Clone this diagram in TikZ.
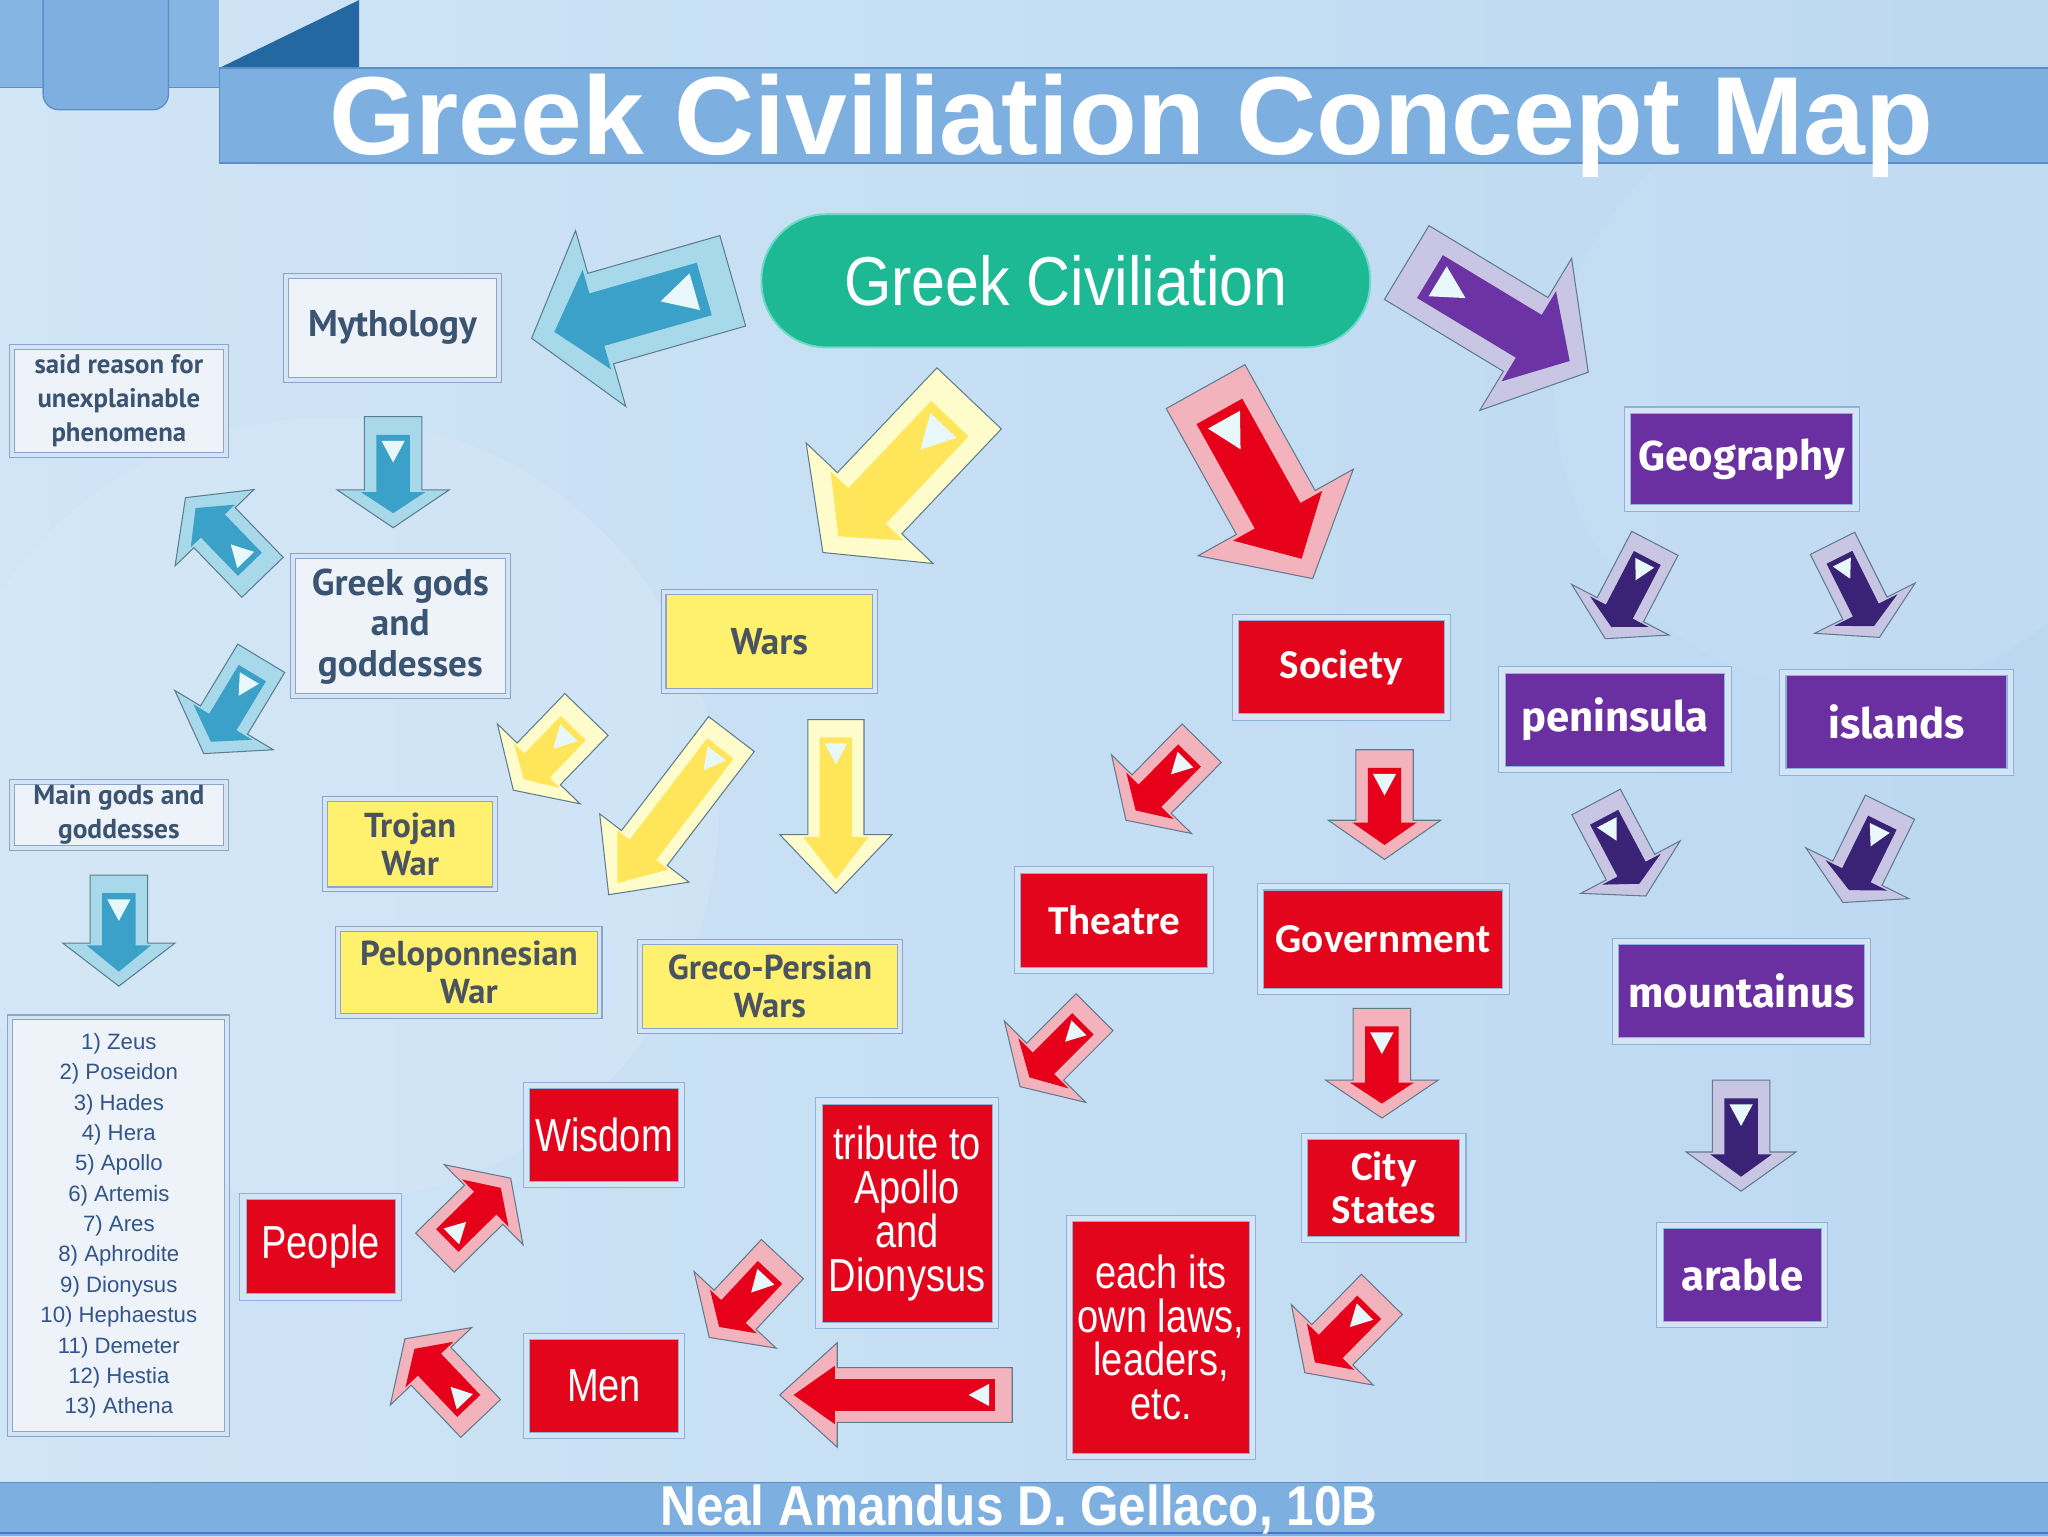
\documentclass[tikz,border=0pt]{standalone}
\usepackage{fontspec}
\setmainfont{Liberation Sans}
\newfontfamily\narrowf{Liberation Sans}[FakeStretch=0.82]
\newfontfamily\footf{Liberation Sans}[FakeStretch=0.88]
\newfontfamily\pillf{Liberation Sans}[FakeStretch=0.88]
\newfontfamily\ptf{PT Sans}
\newfontfamily\carf{Carlito}
\newfontfamily\firaf{Fira Sans}
\definecolor{bgL}{HTML}{D0E5F6}
\definecolor{bgR}{HTML}{BCD8F1}
\definecolor{titlefill}{HTML}{7DAFE1}
\definecolor{titleline}{HTML}{5C8FC6}
\definecolor{bandfill}{HTML}{86B5E4}
\definecolor{tabfill}{HTML}{7EAFE0}
\definecolor{tridark}{HTML}{2468A2}
\definecolor{pillfill}{HTML}{1DB894}
\definecolor{pillline}{HTML}{6FD9C8}
\definecolor{wbline}{HTML}{8CA6CB}
\definecolor{wbgap}{HTML}{D5E4F4}
\definecolor{wbfill}{HTML}{EEF3FA}
\definecolor{wbtext}{HTML}{3A5472}
\definecolor{listtext}{HTML}{32558A}
\definecolor{yfill}{HTML}{FFF06E}
\definecolor{ytext}{HTML}{4A5460}
\definecolor{rbline}{HTML}{8DB3DC}
\definecolor{rbgap}{HTML}{D3E4F5}
\definecolor{redfill}{HTML}{E3051C}
\definecolor{purfill}{HTML}{6A2FA0}
\definecolor{arrowline}{HTML}{5D7C8E}
\definecolor{bl}{HTML}{A8D9EB}
\definecolor{bd}{HTML}{3BA1C8}
\definecolor{yl}{HTML}{FFFCCC}
\definecolor{yd}{HTML}{FFE55A}
\definecolor{rl}{HTML}{F2B3BC}
\definecolor{rd}{HTML}{E6001A}
\definecolor{pl}{HTML}{C8C6E2}
\definecolor{pd}{HTML}{6C33A5}
\definecolor{pdd}{HTML}{3A2377}
\definecolor{arrowtri}{HTML}{E8F7FA}
% block arrow: tail x, tail y, tip x, tip y, head half-width, shaft half-width, head length, light, dark
\newcommand{\barrow}[9]{%
  \pgfmathsetmacro{\arrL}{veclen(#3-#1,#4-#2)}%
  \pgfmathsetmacro{\arrA}{atan2(-(#4-#2),#3-#1)}%
  \pgfmathsetmacro{\arrM}{0.42*#6}%
  \pgfmathsetmacro{\arrS}{#6-\arrM}%
  \pgfmathsetmacro{\arrH}{#5-2*\arrM}%
  \pgfmathsetmacro{\arrB}{\arrL-#7}%
  \pgfmathsetmacro{\arrBi}{\arrL-#7+0.2*\arrM}%
  \begin{scope}[shift={(#1,#2)},rotate=\arrA]
    \filldraw[fill=#8,draw=arrowline,line width=0.8pt,line join=miter]
      (0,#6) -- (\arrB,#6) -- (\arrB,#5) -- (\arrL,0) -- (\arrB,-#5) -- (\arrB,-#6) -- (0,-#6) -- cycle;
    \fill[#9] ({1.5*\arrM},\arrS) -- (\arrBi,\arrS) -- (\arrBi,\arrH) -- ({\arrL-1.2*\arrM},0)
      -- (\arrBi,-\arrH) -- (\arrBi,-\arrS) -- ({1.5*\arrM},-\arrS) -- cycle;
    \fill[arrowtri] ({2*\arrM},{0.7*\arrS}) -- ({2*\arrM+1.3*\arrS},0) -- ({2*\arrM},{-0.7*\arrS}) -- cycle;
  \end{scope}}
\tikzset{
  whitebox/.style={draw=wbline, double=wbgap, double distance=3pt, line width=0.8pt,
    fill=wbfill, text=wbtext, align=center, inner sep=0pt},
  yellowbox/.style={draw=wbline, double=wbgap, double distance=3pt, line width=0.8pt,
    fill=yfill, text=ytext, align=center, inner sep=0pt},
  redbox/.style={draw=rbline, double=rbgap, double distance=4pt, line width=0.8pt,
    fill=redfill, text=white, align=center, inner sep=0pt},
  purplebox/.style={draw=rbline, double=rbgap, double distance=4pt, line width=0.8pt,
    fill=purfill, text=white, align=center, inner sep=0pt},
  wfont/.style={font=\ptf\bfseries\fontsize{28.5}{31}\selectfont},
  yfont/.style={font=\ptf\bfseries\fontsize{26.5}{29}\selectfont},
  cfont/.style={font=\carf\bfseries\fontsize{31.5}{33}\selectfont},
  nfont/.style={font=\narrowf\fontsize{35.5}{33.5}\selectfont},
  pfont/.style={font=\firaf\bfseries\fontsize{32}{34}\selectfont}
}
\begin{document}
\begin{tikzpicture}[x=1pt,y=-1pt]
\useasboundingbox (0,0) rectangle (1568,1176);
% background
\shade[left color=bgL, right color=bgR] (0,0) rectangle (1568,1176);
\fill[white,opacity=0.10] (250,620) circle (300);
\fill[white,opacity=0.08] (1420,300) circle (230);
% header decoration
\fill[bandfill] (0,0) rectangle (168,67);
\draw[titleline,line width=1pt] (0,67) -- (168,67);
\filldraw[fill=tabfill,draw=titleline,line width=1pt,rounded corners=12pt] (33,-5) -- (33,84) -- (129,84) -- (129,-5);
\fill[tridark] (168,52) -- (275,0) -- (275,52) -- cycle;
\fill[titlefill] (168,52) rectangle (1568,125);
\draw[titleline,line width=1.2pt] (1568,52) -- (168,52) -- (168,125) -- (1568,125);
\node[anchor=base, text=white, font=\bfseries\fontsize{85}{90}\selectfont] (title) at (866,118) {Greek Civiliation Concept Map};
% footer
\fill[titlefill] (0,1135) rectangle (1568,1176);
\draw[titleline,line width=1.2pt] (0,1135) -- (1568,1135);
\draw[titleline!80!blue,line width=1.5pt] (0,1174) -- (1568,1174);
\node[anchor=base, text=white, font=\footf\bfseries\fontsize{43}{46}\selectfont] (author) at (780,1168) {Neal Amandus D. Gellaco, 10B};
% arrows
\barrow{561}{215}{407}{259}{70}{36}{55}{bl}{bd}
\barrow{301}{319}{301}{404}{43}{22}{29}{bl}{bd}
\barrow{201}{442}{142}{381}{42}{22}{32}{bl}{bd}
\barrow{200}{504}{156}{577}{44}{21}{30}{bl}{bd}
\barrow{91}{670}{91}{755}{43}{22}{33}{bl}{bd}
\barrow{742}{305}{630}{423}{67}{34}{52}{yl}{yd}
\barrow{449}{547}{393}{605}{44}{23}{28}{yl}{yd}
\barrow{560}{562}{466}{685}{43}{22}{45}{yl}{yd}
\barrow{640}{551}{640}{684}{43}{21.5}{45}{yl}{yd}
\barrow{923}{296}{1005}{443}{68}{34.5}{58}{rl}{rd}
\barrow{920}{569}{862}{628}{43}{21}{28}{rl}{rd}
\barrow{1060}{574}{1060}{658}{43}{22}{30}{rl}{rd}
\barrow{838}{775}{781}{832}{44}{20}{27}{rl}{rd}
\barrow{1058}{772}{1058}{856}{43}{22}{29}{rl}{rd}
\barrow{1058}{991}{999}{1051}{44}{22}{30}{rl}{rd}
\barrow{599}{964}{543}{1024}{43}{22}{29}{rl}{rd}
\barrow{333}{959}{391}{902}{43}{21}{29}{rl}{rd}
\barrow{368}{1086}{310}{1025}{43}{21}{29}{rl}{rd}
\barrow{775}{1068}{597}{1068}{40}{21}{44}{rl}{rd}
\barrow{1077}{201}{1216}{285}{68}{33}{56}{pl}{pd}
\barrow{1267}{416}{1229}{489}{42}{20}{25}{pl}{pdd}
\barrow{1403}{416}{1439}{488}{43}{19}{25}{pl}{pdd}
\barrow{1222}{614}{1260}{686}{43}{21}{25}{pl}{pdd}
\barrow{1447}{618}{1411}{691}{44}{21}{25}{pl}{pdd}
\barrow{1333}{827}{1333}{912}{42}{22}{30}{pl}{pdd}
% central node
\node[draw=pillline, line width=1.5pt, fill=pillfill, rounded corners=50pt, minimum width=466pt, minimum height=102pt,
  text=white, font=\pillf\fontsize{53}{56}\selectfont] (civ) at (816,215) {Greek Civiliation};
% mythology group
\node[whitebox, wfont, minimum width=163pt, minimum height=80pt] (myth) at (300.5,251) {Mythology};
\node[whitebox, font=\ptf\bfseries\fontsize{20.5}{26}\selectfont, minimum width=164pt, minimum height=82pt] (reason) at (91,307) {said reason for\\unexplainable\\phenomena};
\node[whitebox, wfont, minimum width=165pt, minimum height=107pt] (gods) at (306.5,479.5) {Greek gods\\and\\goddesses};
\node[whitebox, font=\ptf\bfseries\fontsize{21}{26}\selectfont, minimum width=164pt, minimum height=50pt] (main) at (91,624) {Main gods and\\goddesses};
\node[whitebox, text=listtext, font=\fontsize{17}{23.25}\selectfont, minimum width=166pt, minimum height=319pt] (list) at (91,938.5)
  {1) Zeus\\2) Poseidon\\3) Hades\\4) Hera\\5) Apollo\\6) Artemis\\7) Ares\\8) Aphrodite\\9) Dionysus\\10) Hephaestus\\11) Demeter\\12) Hestia\\13) Athena};
% wars group
\node[yellowbox, wfont, minimum width=162pt, minimum height=76pt] (wars) at (589,491) {Wars};
\node[yellowbox, yfont, minimum width=130pt, minimum height=69pt] (trojan) at (314,646.5) {Trojan\\War};
\node[yellowbox, yfont, minimum width=200pt, minimum height=67pt] (pelop) at (359,744.5) {Peloponnesian\\War};
\node[yellowbox, yfont, minimum width=199pt, minimum height=68pt] (greco) at (589.5,755) {Greco-Persian\\Wars};
% society group
\node[redbox, cfont, minimum width=162pt, minimum height=76pt] (society) at (1027,511) {Society};
\node[redbox, cfont, minimum width=148pt, minimum height=77pt] (theatre) at (853,704.5) {Theatre};
\node[redbox, cfont, minimum width=188pt, minimum height=80pt] (govt) at (1059,719) {Government};
\node[redbox, cfont, minimum width=121pt, minimum height=79pt] (city) at (1059.5,909.5) {City\\States};
\node[redbox, nfont, minimum width=140pt, minimum height=182pt] (laws) at (889,1024) {each its\\own laws,\\leaders,\\etc.};
\node[redbox, nfont, minimum width=135pt, minimum height=172pt] (tribute) at (694.5,929) {tribute to\\Apollo\\and\\Dionysus};
\node[redbox, nfont, minimum width=119pt, minimum height=76pt] (wisdom) at (462.5,869) {Wisdom};
\node[redbox, nfont, minimum width=119pt, minimum height=77pt] (people) at (245.5,954.5) {People};
\node[redbox, nfont, minimum width=119pt, minimum height=76pt] (men) at (462.5,1061) {Men};
% geography group
\node[purplebox, pfont, minimum width=175pt, minimum height=75pt] (geo) at (1333.5,351.5) {Geography};
\node[purplebox, pfont, minimum width=173pt, minimum height=76pt] (penin) at (1236.5,551) {peninsula};
\node[purplebox, pfont, minimum width=174pt, minimum height=76pt] (islands) at (1452,553) {islands};
\node[purplebox, pfont, minimum width=193pt, minimum height=76pt] (mount) at (1333.5,759) {mountainus};
\node[purplebox, pfont, minimum width=126pt, minimum height=76pt] (arable) at (1334,976) {arable};
\end{tikzpicture}
\end{document}
